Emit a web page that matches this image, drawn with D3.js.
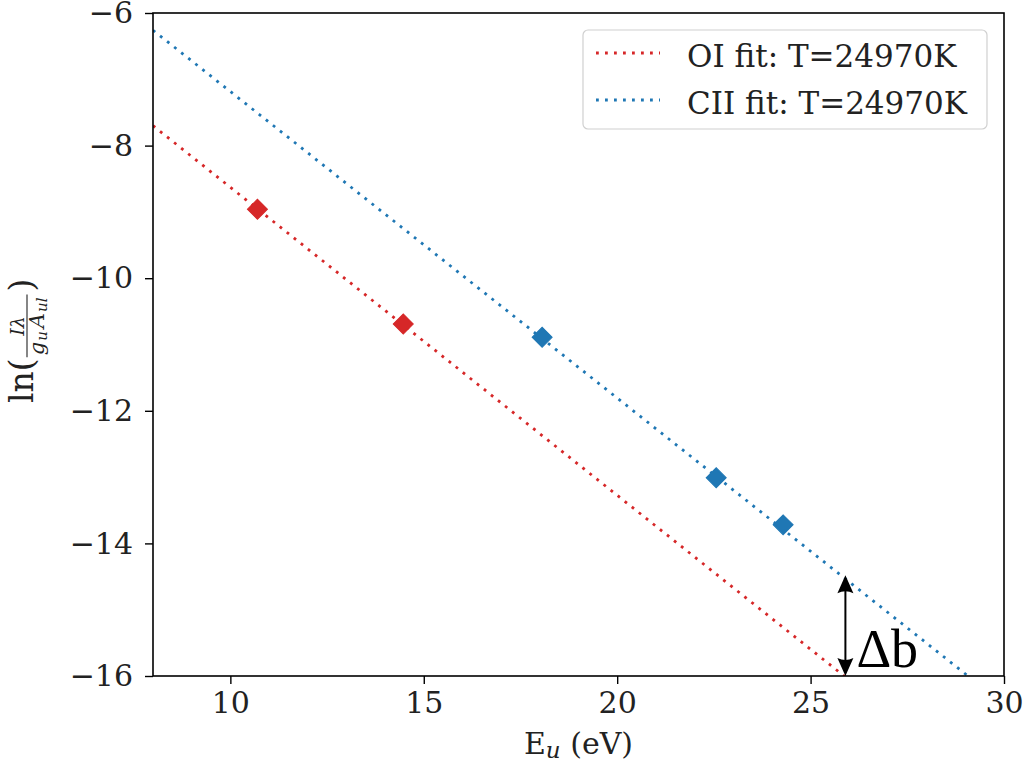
<!DOCTYPE html>
<html>
<head>
<meta charset="utf-8">
<script src="https://cdn.jsdelivr.net/npm/d3@7"></script>
<style>
  body { margin: 0; background: #fff; }
  svg { display: block; }
</style>
</head>
<body>
<div id="chart"></div>
<script>
// values
const oiE = [10.7, 14.47];
const oiY = [-8.96, -10.69];
const ciiE = [18.06, 22.56, 24.29];
const ciiY = [-10.89, -13.01, -13.72];

// fit line endpoints (E, ln value)
const oiFit = [[8, -7.70], [30, -17.92]];
const ciiFit = [[8, -6.26], [30, -16.43]];

const legendLabels = ["OI fit: T=24970K", "CII fit: T=24970K"];
const xTicks = [10, 15, 20, 25, 30];
const yTicks = [-6, -8, -10, -12, -14, -16];

// delta b arrow: at E, from y0 to y1
const deltaB = { e: 25.9, y0: -16, y1: -14.48 };

const red = "#d62728";
const blue = "#1f77b4";

const width = 1025, height = 764;
const mLeft = 153, mRight = 1004, mTop = 13, mBottom = 676;

const svg = d3.select("#chart").append("svg")
    .attr("width", width)
    .attr("height", height)
    .style("font-family", "'DejaVu Serif', serif");

const x = d3.scaleLinear().domain([8, 30]).range([mLeft, mRight]);
const y = d3.scaleLinear().domain([-16, -6]).range([mBottom, mTop]);

svg.append("defs").append("clipPath").attr("id", "plot-clip")
    .append("rect")
    .attr("x", mLeft).attr("y", mTop)
    .attr("width", mRight - mLeft).attr("height", mBottom - mTop);

const plot = svg.append("g").attr("clip-path", "url(#plot-clip)");

const line = d3.line().x(d => x(d[0])).y(d => y(d[1]));

// fit lines
plot.append("path")
    .attr("d", line(oiFit))
    .attr("fill", "none")
    .attr("stroke", red)
    .attr("stroke-width", 2.8)
    .attr("stroke-dasharray", "2.8,6.2");

plot.append("path")
    .attr("d", line(ciiFit))
    .attr("fill", "none")
    .attr("stroke", blue)
    .attr("stroke-width", 2.8)
    .attr("stroke-dasharray", "2.8,6.2");

// diamond markers
const diamond = d3.symbol().type(d3.symbolSquare).size(200);
function drawPoints(es, ys, color) {
    plot.selectAll(null)
        .data(es.map((e, i) => [e, ys[i]]))
        .enter()
        .append("path")
        .attr("d", diamond)
        .attr("transform", d => `translate(${x(d[0])},${y(d[1])}) rotate(45)`)
        .attr("fill", color)
        .attr("stroke", color)
        .attr("stroke-width", 1);
}
drawPoints(oiE, oiY, red);
drawPoints(ciiE, ciiY, blue);

// axes
const xAxis = svg.append("g")
    .attr("transform", `translate(0,${mBottom})`)
    .call(d3.axisBottom(x).tickValues(xTicks).tickSize(8).tickPadding(8).tickFormat(d3.format("d")));
const yAxis = svg.append("g")
    .attr("transform", `translate(${mLeft},0)`)
    .call(d3.axisLeft(y).tickValues(yTicks).tickSize(8).tickPadding(12)
        .tickFormat(d => d < 0 ? "\u2212" + Math.abs(d) : d));

[xAxis, yAxis].forEach(a => {
    a.select(".domain").remove();
    a.selectAll(".tick line").attr("stroke", "#000").attr("stroke-width", 1.4);
    a.selectAll("text")
        .attr("fill", "#222")
        .style("font-family", "'DejaVu Serif', serif")
        .style("font-size", "30px");
});

// frame
svg.append("rect")
    .attr("x", mLeft).attr("y", mTop)
    .attr("width", mRight - mLeft).attr("height", mBottom - mTop)
    .attr("fill", "none")
    .attr("stroke", "#000")
    .attr("stroke-width", 1.6);

// x label
const xl = svg.append("text")
    .attr("x", (mLeft + mRight) / 2)
    .attr("y", 754)
    .attr("text-anchor", "middle")
    .attr("fill", "#222")
    .style("font-size", "30px");
xl.append("tspan").text("E");
xl.append("tspan").attr("dy", 4).style("font-style", "italic").style("font-size", "23px").text("u");
xl.append("tspan").attr("dy", -4).text(" (eV)");

// y label: ln( Iλ / (g_u A_ul) )
const yl = svg.append("g")
    .attr("transform", "translate(33,403) rotate(-90)")
    .attr("fill", "#222");
const lnText = yl.append("text").attr("x", 0).attr("y", 0).style("font-size", "33px").text("ln(");
const fx = lnText.node().getComputedTextLength() + 1;
const den = yl.append("text").attr("x", fx + 2).attr("y", 11)
    .style("font-size", "21px").style("font-style", "italic");
den.append("tspan").text("g");
den.append("tspan").attr("dx", 1).attr("dy", 3).style("font-size", "15px").text("u");
den.append("tspan").attr("dx", 3).attr("dy", -3).text("A");
den.append("tspan").attr("dx", 1).attr("dy", 3).style("font-size", "15px").text("ul");
const fw = den.node().getComputedTextLength() + 10;
yl.append("text").attr("x", fx + fw / 2).attr("y", -9)
    .attr("text-anchor", "middle")
    .style("font-size", "19px").style("font-style", "italic").text("I\u03bb");
yl.append("line")
    .attr("x1", fx).attr("x2", fx + fw)
    .attr("y1", -6).attr("y2", -6)
    .attr("stroke", "#222").attr("stroke-width", 1.1);
yl.append("text").attr("x", fx + fw + 3).attr("y", 0).style("font-size", "33px").text(")");

// legend
const legend = svg.append("g");
legend.append("rect")
    .attr("x", 583).attr("y", 30)
    .attr("width", 404).attr("height", 99)
    .attr("rx", 5)
    .attr("fill", "#fff")
    .attr("fill-opacity", 0.8)
    .attr("stroke", "#d0d0d0")
    .attr("stroke-width", 1.2);
[red, blue].forEach((c, i) => {
    const ly = 53 + i * 47;
    legend.append("line")
        .attr("x1", 596).attr("x2", 660)
        .attr("y1", ly).attr("y2", ly)
        .attr("stroke", c)
        .attr("stroke-width", 2.8)
        .attr("stroke-dasharray", "2.8,6.2");
    legend.append("text")
        .attr("x", 687).attr("y", ly + 14)
        .attr("fill", "#222")
        .style("font-size", "31px")
        .text(legendLabels[i]);
});

// delta b arrow
const ax = x(deltaB.e), ay0 = y(deltaB.y0), ay1 = y(deltaB.y1);
const headL = 18, headW = 8;
svg.append("line")
    .attr("x1", ax).attr("x2", ax)
    .attr("y1", ay0 - headL + 3).attr("y2", ay1 + headL - 3)
    .attr("stroke", "#000").attr("stroke-width", 2);
svg.append("path")
    .attr("d", `M${ax},${ay1} L${ax - headW},${ay1 + headL} Q${ax},${ay1 + headL - 4} ${ax + headW},${ay1 + headL} Z`)
    .attr("fill", "#000");
svg.append("path")
    .attr("d", `M${ax},${ay0} L${ax - headW},${ay0 - headL} Q${ax},${ay0 - headL + 4} ${ax + headW},${ay0 - headL} Z`)
    .attr("fill", "#000");
svg.append("text")
    .attr("x", ax + 11)
    .attr("y", ay0 - 9)
    .attr("fill", "#000")
    .style("font-family", "'Liberation Serif', serif")
    .style("font-size", "54px")
    .text("\u0394b");
</script>
</body>
</html>
